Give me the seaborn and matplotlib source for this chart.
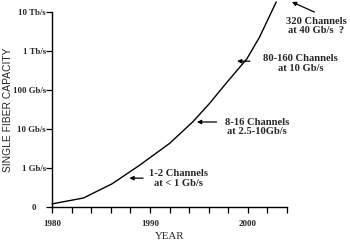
import matplotlib
matplotlib.use('Agg')
import matplotlib.pyplot as plt
import seaborn as sns
import pandas as pd

# curve (y = decades above "0")
years = [1980, 1983.2, 1986.1, 1989.0, 1989.7, 1992.0, 1994.4, 1996.1, 1997.8, 1999.9, 2001.2, 2002.9]
levels = [0.08, 0.23, 0.59, 1.08, 1.21, 1.63, 2.19, 2.66, 3.18, 3.8, 4.36, 5.26]

y_ticks = [0, 1, 2, 3, 4, 5]
y_labels = ['0    ', '1 Gb/s', '10 Gb/s', '100 Gb/s', '1 Tb/s', '10 Tb/s']
x_ticks = list(range(1980, 2005, 2))
x_labels = [str(t) if t % 10 == 0 else '' for t in x_ticks]

notes = ['1-2 Channels\nat < 1 Gb/s', '8-16 Channels\nat 2.5-10Gb/s',
         '80-160 Channels\nat 10 Gb/s', '320 Channels\nat 40 Gb/s  ?']
note_text_xy = [(1992.9, 0.74), (2000.9, 2.05), (2005.4, 3.69), (2007.0, 4.64)]
note_arrow_head = [(1987.9, 0.74), (1994.8, 2.18), (1998.9, 3.74), (2004.5, 5.26)]
note_arrow_tail = [(1989.3, 0.74), (1996.8, 2.18), (2000.2, 3.74), (2006.8, 5.0)]

sns.set_style('ticks')
plt.rcParams['font.family'] = ['Liberation Serif', 'DejaVu Serif']

fig = plt.figure(figsize=(3.5, 2.43), dpi=100)
ax = fig.add_axes([52 / 350, 36 / 243, 235 / 350, 207 / 243])

df = pd.DataFrame({'year': years, 'level': levels})
sns.lineplot(data=df, x='year', y='level', color='black', lw=1.0, ax=ax, clip_on=False)

ax.set_xlim(1980, 2004)
ax.set_ylim(0, 5.31)
ax.spines['left'].set_bounds(0, 5)
ax.spines['top'].set_visible(False)
ax.spines['right'].set_visible(False)
for s in ['left', 'bottom']:
    ax.spines[s].set_linewidth(1.0)
    ax.spines[s].set_color('black')

ax.set_xticks(x_ticks)
ax.set_xticklabels(x_labels, fontsize=6.5, fontweight='bold')
ax.set_yticks(y_ticks)
ax.set_yticklabels(y_labels, fontsize=6.3, fontweight='bold')
ax.tick_params(axis='both', direction='out', length=4, width=0.9, color='black')
ax.tick_params(axis='y', pad=0.5)
ax.tick_params(axis='x', pad=5)

ax.set_xlabel('YEAR', fontsize=7.8, labelpad=3)
ax.set_ylabel('SINGLE FIBER CAPACITY', fontsize=7.4, family=['Liberation Sans', 'DejaVu Sans'])
ax.yaxis.set_label_coords(-0.168, 0.469)

for txt, txy, head, tail in zip(notes, note_text_xy, note_arrow_head, note_arrow_tail):
    ax.text(txy[0], txy[1], txt, ha='center', va='center', fontsize=7.6,
            fontweight='bold', linespacing=1.1, clip_on=False)
    ax.annotate('', xy=head, xytext=tail, annotation_clip=False,
                arrowprops=dict(arrowstyle='-|>', color='black', lw=0.9,
                                mutation_scale=6, shrinkA=0, shrinkB=0))

fig.savefig('out.png', dpi=100)
